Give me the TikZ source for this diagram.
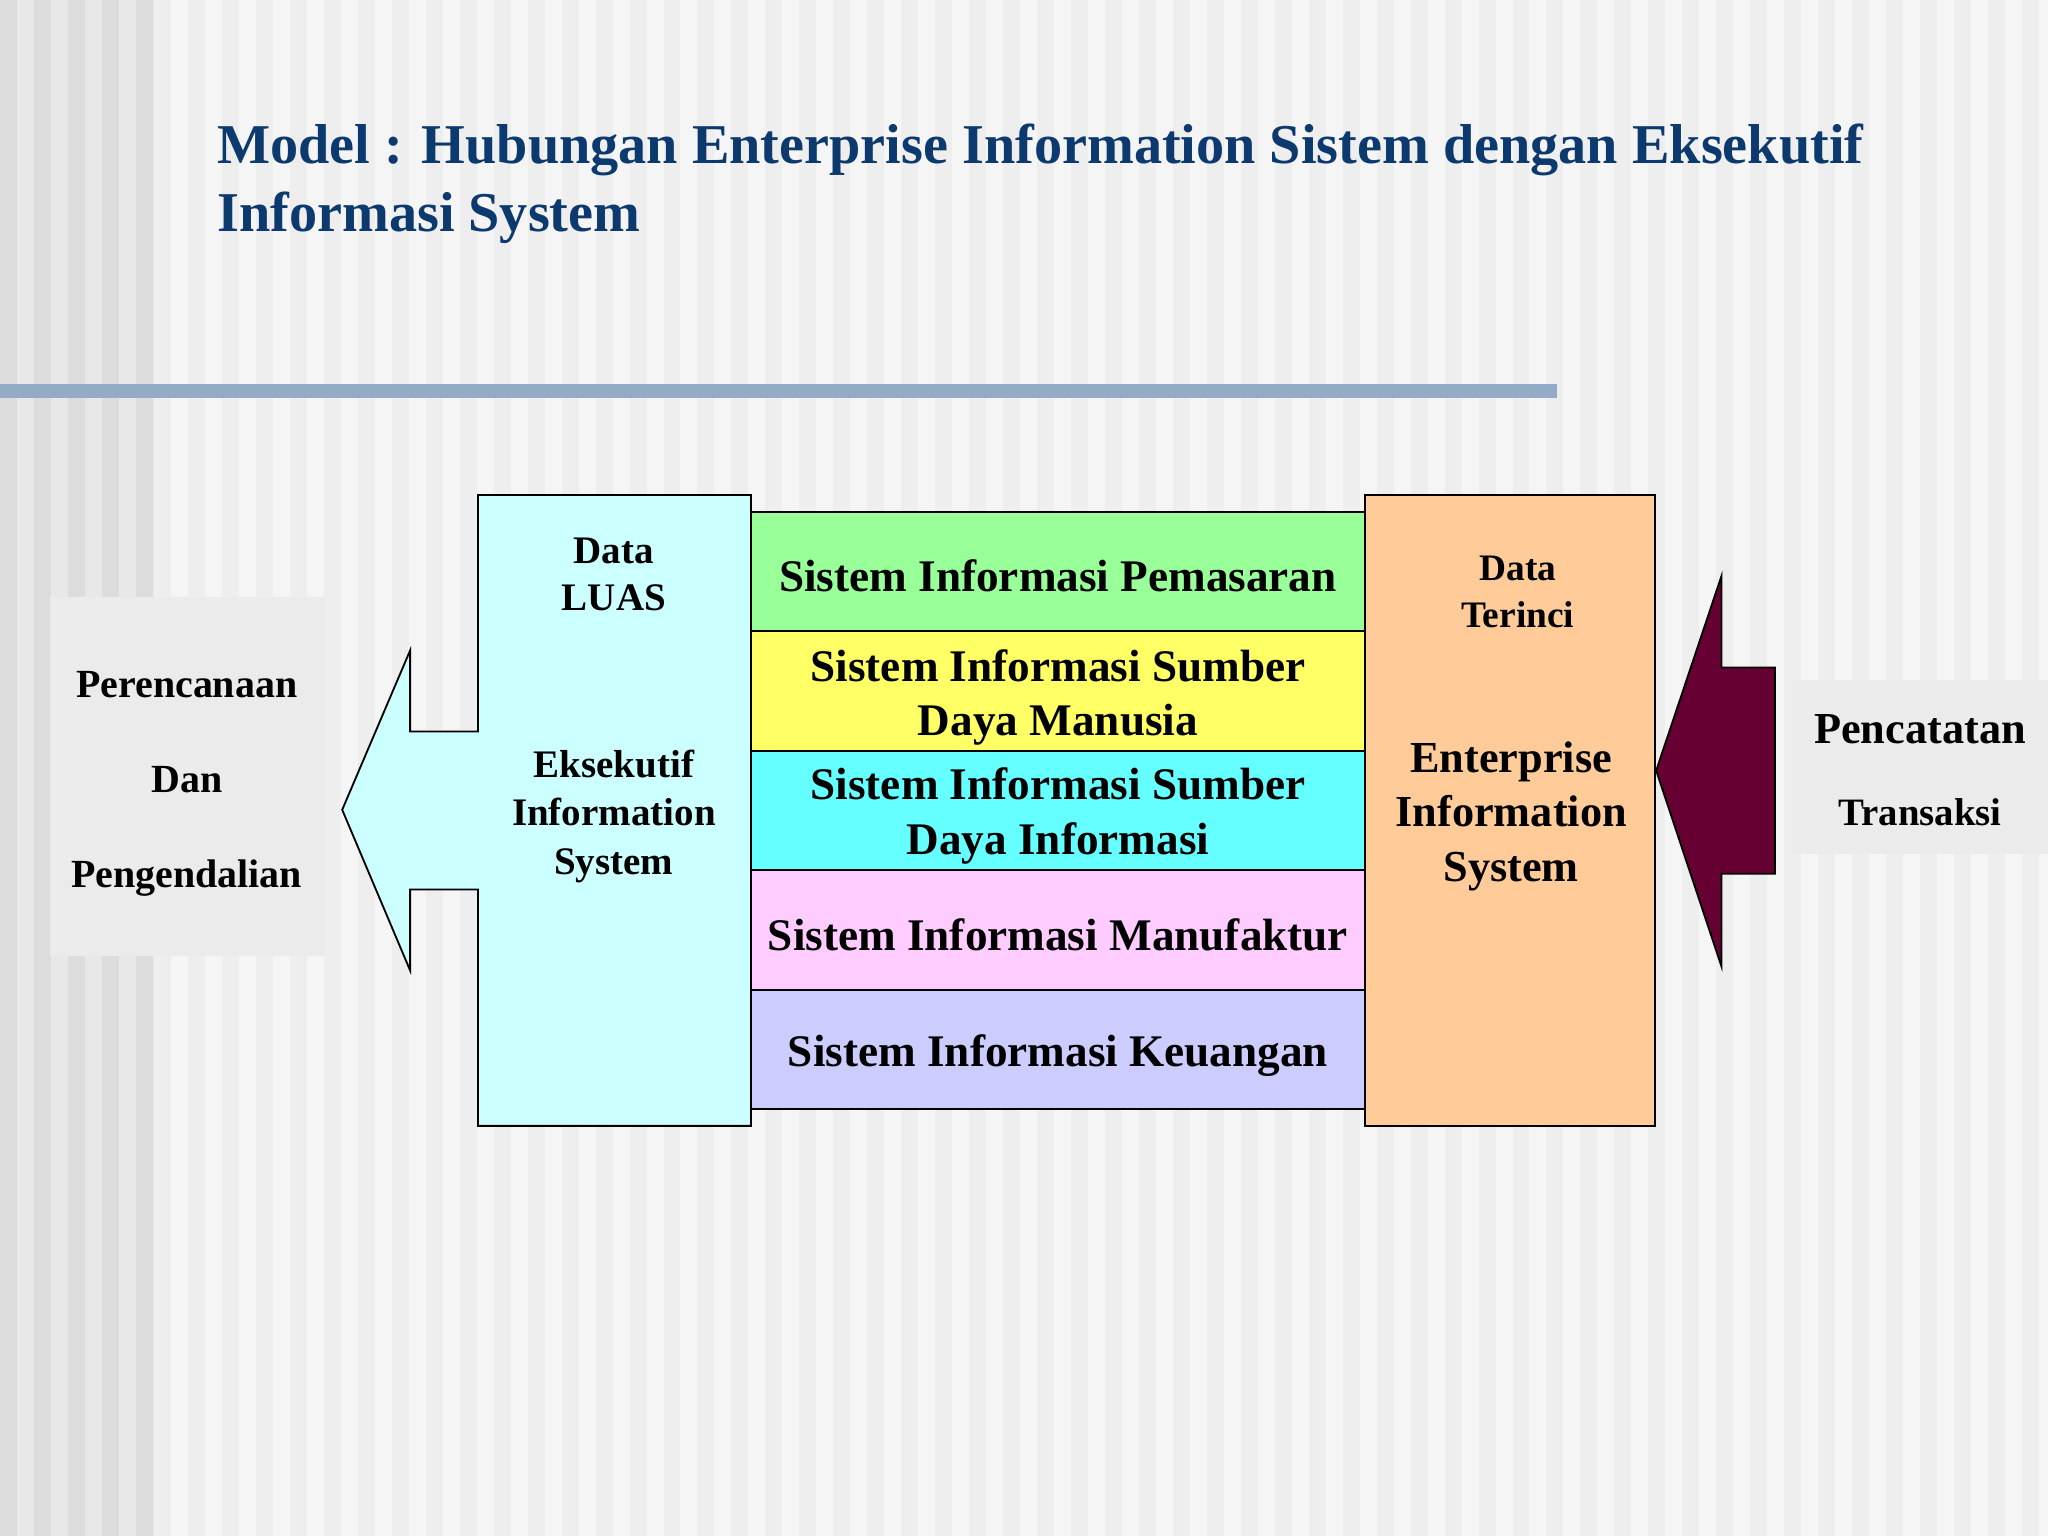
\documentclass[tikz,border=0pt]{standalone}
\usepackage{fontspec}
\setmainfont{Liberation Serif}
\usepackage{tikz}

\definecolor{titleblue}{HTML}{0C3A6E}
\definecolor{barblue}{HTML}{93ABC7}
\definecolor{bgdark}{HTML}{DCDCDC}
\definecolor{bgmid}{HTML}{E8E8E8}
\definecolor{bgbase}{HTML}{EEEEEE}
\definecolor{bglight}{HTML}{F5F5F5}
\definecolor{labelbox}{HTML}{EBEBEB}
\definecolor{eiscyan}{HTML}{CCFFFF}
\definecolor{eisorange}{HTML}{FFCC99}
\definecolor{rowgreen}{HTML}{99FF99}
\definecolor{rowyellow}{HTML}{FFFF66}
\definecolor{rowcyan}{HTML}{66FFFF}
\definecolor{rowpink}{HTML}{FFCCFF}
\definecolor{rowlilac}{HTML}{CCCCFF}
\definecolor{maroon}{HTML}{660033}

\begin{document}
\begin{tikzpicture}[x=0.02cm,y=-0.02cm,
  txt/.style={align=center, inner sep=0pt, font=\bfseries\fontsize{17}{21}\selectfont},
  rowtxt/.style={txt, font=\bfseries\fontsize{19.7}{23.9}\selectfont},
  box/.style={draw, line width=0.8pt}]
  \useasboundingbox (0,0) rectangle (1568,1176);

  % striped background
  \fill[bgbase] (0,0) rectangle (1568,1176);
  \fill[bgmid] (0,0) rectangle (118,1176);
  \foreach \x in {0,26,...,104}
    \fill[bgdark] (\x,0) rectangle ++(13,1176);
  \foreach \x in {131,157,...,1568}
    \fill[bglight] (\x,0) rectangle ++(13,1176);
  \fill[barblue] (0,294) rectangle (1192,305);

  \node[anchor=base west, align=left, inner sep=0pt, text=titleblue,
    font=\bfseries\fontsize{24.5}{29.6}\selectfont] (title) at (166,177)
    {Model : Hubungan Enterprise Information Sistem dengan Eksekutif\\Informasi System};

  % left label
  \fill[labelbox] (38,457) rectangle (249,732);
  \node[txt, font=\bfseries\fontsize{17.4}{41.5}\selectfont] (plan) at (143,600)
    {Perencanaan\\Dan\\Pengendalian};

  % executive box with its arrow
  \draw[box, fill=eiscyan] (366,379) -- (575,379) -- (575,862) -- (366,862)
    -- (366,681) -- (314,681) -- (314,743) -- (262,620) -- (314,498)
    -- (314,560) -- (366,560) -- cycle;
  \node[txt, font=\bfseries\fontsize{17}{20.5}\selectfont] (luas) at (470,440) {Data\\LUAS};
  \node[txt] (eksis) at (470,625) {Eksekutif\\Information\\System};

  % subsystems
  \draw[box, fill=rowgreen]  (575,392) rectangle (1045,483);
  \draw[box, fill=rowyellow] (575,483) rectangle (1045,575);
  \draw[box, fill=rowcyan]   (575,575) rectangle (1045,666);
  \draw[box, fill=rowpink]   (575,666) rectangle (1045,758);
  \draw[box, fill=rowlilac]  (575,758) rectangle (1045,849);
  \node[rowtxt] (pemasaran) at (810,441) {Sistem Informasi Pemasaran};
  \node[rowtxt] (sdm) at (810,534) {Sistem Informasi Sumber\\Daya Manusia};
  \node[rowtxt] (sdi) at (810,625) {Sistem Informasi Sumber\\Daya Informasi};
  \node[rowtxt] (manuf) at (810,716) {Sistem Informasi Manufaktur};
  \node[rowtxt] (uang) at (810,808) {Sistem Informasi Keuangan};

  % enterprise box
  \draw[box, fill=eisorange] (1045,379) rectangle (1267,862);
  \node[txt, font=\bfseries\fontsize{16.3}{20.5}\selectfont] (rinci) at (1162,453) {Data\\Terinci};
  \node[txt, font=\bfseries\fontsize{19.3}{23.9}\selectfont] (enter) at (1157,625)
    {Enterprise\\Information\\System};

  % input arrow
  \draw[box, fill=maroon] (1359,511) -- (1318,511) -- (1318,441) -- (1268,590)
    -- (1318,740) -- (1318,669) -- (1359,669) -- cycle;

  % right label
  \fill[labelbox] (1372,521) rectangle (1568,654);
  \node[txt, font=\bfseries\fontsize{19.3}{23}\selectfont] (catat) at (1470,558) {Pencatatan};
  \node[txt, font=\bfseries\fontsize{16.9}{20}\selectfont] (trans) at (1470,622) {Transaksi};
\end{tikzpicture}
\end{document}
